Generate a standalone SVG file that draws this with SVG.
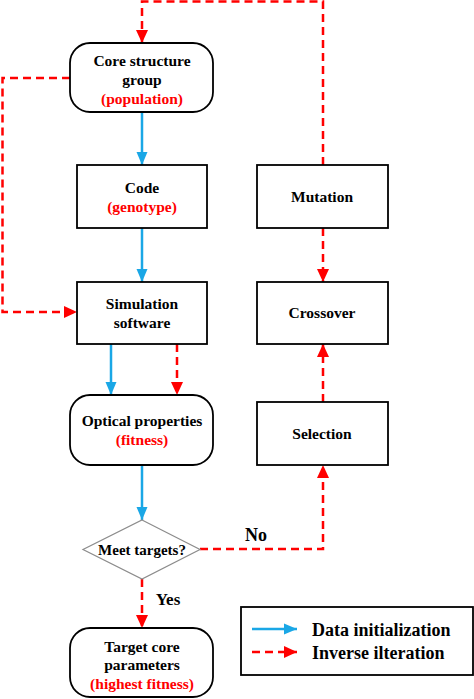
<svg xmlns="http://www.w3.org/2000/svg" width="474" height="699" viewBox="0 0 474 699">
<style>
.box{fill:#fff;stroke:#000;stroke-width:1.8}
.dia{fill:#fff;stroke:#8c8c8c;stroke-width:1.2}
.t{font-family:'Liberation Serif','DejaVu Serif',serif;font-weight:bold;font-size:15.5px;fill:#000;text-anchor:middle}
.r{fill:#ff0000}
.blue{fill:none;stroke:#1aa7e6;stroke-width:2.5}
.red{fill:none;stroke:#ff0000;stroke-width:2.5;stroke-dasharray:8,5}
</style>
<defs>
<marker id="ab" markerUnits="userSpaceOnUse" markerWidth="14" markerHeight="14" viewBox="0 0 14 14" refX="13" refY="7" orient="auto">
<path d="M0,1.5 L13,7 L0,12.5 Z" fill="#1aa7e6"/>
</marker>
<marker id="ar" markerUnits="userSpaceOnUse" markerWidth="14" markerHeight="14" viewBox="0 0 14 14" refX="13" refY="7" orient="auto">
<path d="M0,1 L13,7 L0,13 Z" fill="#ff0000"/>
</marker>
</defs>

<g id="connectors">
<path class="blue" d="M142,112 V165" marker-end="url(#ab)"/>
<path class="blue" d="M142,228 V282" marker-end="url(#ab)"/>
<path class="blue" d="M111,344 V395" marker-end="url(#ab)"/>
<path class="red" d="M177,344 V395" marker-end="url(#ar)"/>
<path class="blue" d="M142,465 V520" marker-end="url(#ab)"/>
<path class="red" d="M142,579 V628" marker-end="url(#ar)"/>
<path class="red" d="M200,549 H323 V465" marker-end="url(#ar)"/>
<path class="red" d="M323,402 V344" marker-end="url(#ar)"/>
<path class="red" d="M323,228 V282" marker-end="url(#ar)"/>
<path class="red" d="M323,165 V1.5 H142 V43" marker-end="url(#ar)"/>
<path class="red" d="M70,78 H2.5 V312 H77" marker-end="url(#ar)"/>
<text class="t" x="256" y="541" style="font-size:18px">No</text>
<text class="t" x="168" y="605" style="font-size:17px">Yes</text>
</g>

<g id="core">
<rect class="box" x="70" y="43" width="143" height="69" rx="20"/>
<text class="t" x="142" y="66">Core structure</text>
<text class="t" x="142" y="85">group</text>
<text class="t r" x="142" y="104">(population)</text>
</g>

<g id="code">
<rect class="box" x="77" y="165" width="130" height="63"/>
<text class="t" x="142" y="193">Code</text>
<text class="t r" x="142" y="212">(genotype)</text>
</g>

<g id="simulation">
<rect class="box" x="77" y="282" width="130" height="62"/>
<text class="t" x="142" y="309">Simulation</text>
<text class="t" x="142" y="328">software</text>
</g>

<g id="optical">
<rect class="box" x="70" y="395" width="143" height="70" rx="20"/>
<text class="t" x="142" y="426">Optical properties</text>
<text class="t r" x="142" y="445">(fitness)</text>
</g>

<g id="meet">
<path class="dia" d="M142,520 L200,549.5 L142,579 L83,549.5 Z"/>
<text class="t" x="142" y="555" style="font-size:15px">Meet targets?</text>
</g>

<g id="target">
<rect class="box" x="70" y="628" width="143" height="69" rx="20"/>
<text class="t" x="142" y="652">Target core</text>
<text class="t" x="142" y="670">parameters</text>
<text class="t r" x="142" y="689">(highest fitness)</text>
</g>

<g id="mutation">
<rect class="box" x="257" y="165" width="131" height="63"/>
<text class="t" x="322" y="202">Mutation</text>
</g>

<g id="crossover">
<rect class="box" x="257" y="282" width="131" height="62"/>
<text class="t" x="322" y="318">Crossover</text>
</g>

<g id="selection">
<rect class="box" x="257" y="402" width="131" height="63"/>
<text class="t" x="322" y="439">Selection</text>
</g>

<g id="legend">
<rect class="box" x="241" y="607" width="232" height="68"/>
<path class="blue" d="M252,629 H297" marker-end="url(#ab)"/>
<path class="red" d="M252,652 H297" marker-end="url(#ar)"/>
<text class="t" x="312" y="636" style="font-size:18px;text-anchor:start">Data initialization</text>
<text class="t" x="312" y="659" style="font-size:18px;text-anchor:start">Inverse ilteration</text>
</g>
</svg>
